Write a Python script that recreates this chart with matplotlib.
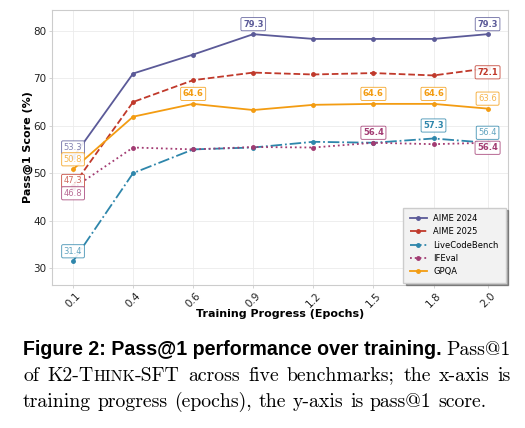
import matplotlib
matplotlib.use("Agg")
import matplotlib.pyplot as plt

# データ
epoch_labels = ["0.1", "0.4", "0.6", "0.9", "1.2", "1.5", "1.8", "2.0"]
x_pos = [0, 1, 2, 3, 4, 5, 6, 6.9]

series_names = ["AIME 2024", "AIME 2025", "LiveCodeBench", "IFEval", "GPQA"]
aime24 = [53.3, 71.0, 75.0, 79.3, 78.3, 78.3, 78.3, 79.3]
aime25 = [47.3, 65.0, 69.6, 71.2, 70.8, 71.1, 70.6, 72.1]
lcb = [31.4, 50.0, 55.0, 55.4, 56.6, 56.4, 57.3, 56.4]
ifeval = [46.8, 55.4, 55.0, 55.5, 55.4, 56.4, 56.1, 56.4]
gpqa = [50.8, 61.9, 64.6, 63.3, 64.4, 64.6, 64.6, 63.6]

colors = ["#5B5A98", "#C0392B", "#2E86AB", "#A23B72", "#F39C12"]
styles = ["-", "--", "-.", ":", "-"]

# ラベルのずらし量（px）: (系列, 点) -> 上下
label_shift = {(1, 0): 5, (3, 0): -5, (1, 7): -4, (3, 7): -5, (2, 6): 13}

W, H = 525, 428
fig = plt.figure(figsize=(W / 100, H / 100), dpi=100)
ax = fig.add_axes([52 / W, 1 - 285 / H, (508 - 52) / W, (285 - 10) / H])

all_series = [aime24, aime25, lcb, ifeval, gpqa]
for i, (name, vals) in enumerate(zip(series_names, all_series)):
    ax.plot(x_pos, vals, linestyle=styles[i], color=colors[i], lw=1.3,
            marker="o", ms=2.5, label=name, zorder=3)
    top = max(vals)
    last = len(vals) - 1
    for j, v in enumerate(vals):
        is_max = v == top
        if not (j == 0 or j == last or is_max):
            continue
        dy = label_shift.get((i, j), 10)
        ax.annotate(f"{v:.1f}", (x_pos[j], v), xytext=(0, dy),
                    textcoords="offset pixels", ha="center", va="center",
                    fontsize=6, color=colors[i],
                    fontweight="bold" if is_max else "normal",
                    alpha=1.0 if is_max else 0.75,
                    bbox=dict(boxstyle="round,pad=0.25,rounding_size=0.15",
                              fc="white", ec=colors[i], lw=0.6, alpha=0.9),
                    zorder=5)

ax.set_xlim(-0.35, 7.24)
ax.set_ylim(26.4, 84.4)
ax.set_yticks([30, 40, 50, 60, 70, 80])
ax.set_xticks(x_pos)
ax.set_xticklabels(epoch_labels, rotation=45, ha="center")
ax.tick_params(labelsize=7.5, length=2, width=0.6, pad=2, colors="#222222")
ax.tick_params(color="#cccccc")
ax.grid(True, color="#ebebeb", lw=0.6)
ax.set_axisbelow(True)
for sp in ax.spines.values():
    sp.set_color("#cccccc")
    sp.set_linewidth(0.8)
ax.set_xlabel("Training Progress (Epochs)", fontsize=8, fontweight="bold", labelpad=0)
ax.set_ylabel("Pass@1 Score (%)", fontsize=8, fontweight="bold", labelpad=0)
leg = ax.legend(loc="lower right", fontsize=6, frameon=True, shadow=True,
                fancybox=False, borderaxespad=0.3, borderpad=0.8)
leg.get_frame().set_facecolor("#f2f2f2")
leg.get_frame().set_edgecolor("#cccccc")

# キャプション（両端揃え）
renderer = fig.canvas.get_renderer()
SANS = ["Liberation Sans", "DejaVu Sans"]
SERIF = ["cmr10", "DejaVu Serif"]
LEFT, RIGHT = 23, 511


def text_width(s, fp):
    t = fig.text(0, 0, s, **fp)
    w = t.get_window_extent(renderer).width
    t.remove()
    return w


def word_width(w):
    return sum(text_width(s, fp) for s, fp in w)


def natural_width(words, space):
    return sum(word_width(w) for w in words) + space * (len(words) - 1)


def draw_line(words, x0, y, space, right=None):
    widths = [word_width(w) for w in words]
    gap = space
    if right is not None and len(words) > 1:
        gap = (right - x0 - sum(widths)) / (len(words) - 1)
    x = x0
    for w, ww in zip(words, widths):
        xx = x
        for s, fp in w:
            fig.text(xx / W, 1 - y / H, s, ha="left", va="baseline", **fp)
            xx += text_width(s, fp)
        x += ww + gap


# 太字部分の幅（約419px）に合わせて大きさを決める
bold_text = "Figure 2: Pass@1 performance over training."
b = dict(family=SANS, fontweight="bold", fontsize=10)
bsize = 10 * 419 / text_width(bold_text, b)
bold_sans = dict(family=SANS, fontweight="bold", fontsize=bsize)

# 3行目の幅（約466px）に合わせる
line3_text = "training progress (epochs), the y-axis is pass@1 score."
s0 = dict(family=SERIF, fontsize=12)
words3 = [[(s, s0)] for s in line3_text.split()]
ssize = 12 * 466 / natural_width(words3, 0.333 * 12 * 100 / 72)
serif = dict(family=SERIF, fontsize=ssize)
serif_sc = dict(family=SERIF, fontsize=ssize * 0.8)
space = 0.333 * ssize * 100 / 72

line2 = [[("of", serif)],
         [("K2-T", serif), ("HINK", serif_sc), ("-SFT", serif)]]
line2 += [[(s, serif)] for s in "across five benchmarks; the x-axis is".split()]
line3 = [[(s, serif)] for s in line3_text.split()]

# 1行目: 太字はそのまま、最後の語だけ右端に
fig.text(LEFT / W, 1 - 355 / H, bold_text, ha="left", va="baseline", **bold_sans)
fig.text(RIGHT / W, 1 - 355 / H, "Pass@1", ha="right", va="baseline", **serif)
draw_line(line2, LEFT, 381, space, right=RIGHT)
draw_line(line3, LEFT, 407, space)

fig.savefig("out.png", dpi=100)
